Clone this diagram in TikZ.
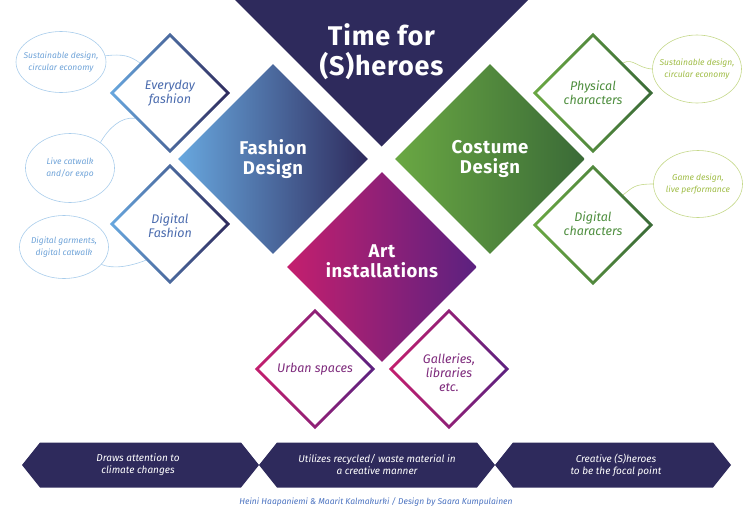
\documentclass[tikz,border=0pt]{standalone}
\usepackage{fontspec}
\setmainfont{Fira Sans}
\newfontfamily\headfont[LetterSpace=3]{Fira Sans}
\usetikzlibrary{shapes.geometric,calc}
\definecolor{navy}{HTML}{2E2A5C}
\definecolor{fdL}{HTML}{68A8DF}
\definecolor{cdL}{HTML}{6AA843}
\definecolor{cdR}{HTML}{3A6A37}
\definecolor{arL}{HTML}{C41F6E}
\definecolor{arR}{HTML}{5B2180}
\definecolor{blueT}{HTML}{4A6BAE}
\definecolor{greenT}{HTML}{4E8E3E}
\definecolor{magT}{HTML}{7E2A7C}
\definecolor{bubL}{HTML}{A8CCEB}
\definecolor{bubLT}{HTML}{6FA3D8}
\definecolor{bubR}{HTML}{C5D88A}
\definecolor{bubRT}{HTML}{9FBC45}
\definecolor{footc}{HTML}{4A72C0}
\tikzset{
  bigd/.style={diamond, inner sep=0pt, minimum width=190pt, minimum height=190pt},
  bigtxt/.style={text=white, align=center, font=\headfont\bfseries\fontsize{18.5}{20}\selectfont},
  ring/.style 2 args={diamond, inner sep=0pt, minimum width=120.2pt, minimum height=120.2pt, left color=#1, right color=#2},
  hole/.style={diamond, inner sep=0pt, minimum width=111.8pt, minimum height=111.8pt, fill=white},
  holetxt/.style={align=center, font=\itshape\fontsize{12.5}{14}\selectfont},
  lbub/.style={ellipse, draw=bubL, line width=0.6pt, inner sep=0pt},
  rbub/.style={ellipse, draw=bubR, line width=0.6pt, inner sep=0pt},
  lbtxt/.style={text=bubLT, align=center, font=\itshape\fontsize{8.5}{12}\selectfont},
  rbtxt/.style={text=bubRT, align=center, font=\itshape\fontsize{8.5}{12}\selectfont},
  lconn/.style={draw=bubL, line width=0.6pt},
  rconn/.style={draw=bubR, line width=0.6pt},
  bantxt/.style={text=white, align=center, font=\itshape\fontsize{10}{12}\selectfont},
}
\begin{document}
\begin{tikzpicture}[x=1pt,y=-1pt]
\useasboundingbox (0,0) rectangle (753,517);
% title triangle
\fill[navy] (235,0) -- (528,0) -- (381.5,146.5) -- cycle;
\node[text=white, align=center, font=\headfont\bfseries\fontsize{27}{30}\selectfont] (title) at (381.5,52) {Time for\\(S)heroes};
% big diamonds
\node[bigd, left color=fdL, right color=navy] (fd) at (273,159) {};
\node[bigtxt] (fdt) at (273,159) {Fashion\\Design};
\node[bigd, left color=cdL, right color=cdR] (cd) at (490,159) {};
\node[bigtxt] (cdt) at (490,159) {Costume\\Design};
\node[bigd, left color=arL, right color=arR] (ar) at (382,267) {};
\node[bigtxt] (art) at (382,261) {Art\\installations};
% outline diamonds
\node[ring={fdL}{navy}] (ev) at (170,93) {};
\node[hole] (evh) at (170,93) {};
\node[holetxt, text=blueT] (evt) at (170,93) {Everyday\\fashion};
\node[ring={fdL}{navy}] (dg) at (170,224) {};
\node[hole] (dgh) at (170,224) {};
\node[holetxt, text=blueT] (dgt) at (170,226) {Digital\\Fashion};
\node[ring={cdL}{cdR}] (pc) at (593,93) {};
\node[hole] (pch) at (593,93) {};
\node[holetxt, text=greenT] (pct) at (593,93) {Physical\\characters};
\node[ring={cdL}{cdR}] (dc) at (593,225) {};
\node[hole] (dch) at (593,225) {};
\node[holetxt, text=greenT] (dct) at (593,224) {Digital\\characters};
\node[ring={arL}{arR}] (us) at (315,369) {};
\node[hole] (ush) at (315,369) {};
\node[holetxt, text=magT] (ust) at (315,369) {Urban spaces};
\node[ring={arL}{arR}] (gl) at (449,369) {};
\node[hole] (glh) at (449,369) {};
\node[holetxt, text=magT] (glt) at (449,373) {Galleries,\\libraries\\etc.};
% bubbles
\node[lbub, minimum width=90pt, minimum height=61pt] (lb1) at (61,62) {};
\node[lbtxt] (lb1t) at (61,62) {Sustainable design,\\circular economy};
\node[lbub, minimum width=89pt, minimum height=69pt] (lb2) at (70,168) {};
\node[lbtxt] (lb2t) at (70,168) {Live catwalk\\and/or expo};
\node[lbub, minimum width=89pt, minimum height=63pt] (lb3) at (64,247) {};
\node[lbtxt] (lb3t) at (64,247) {Digital garments,\\digital catwalk};
\node[rbub, minimum width=89pt, minimum height=68pt] (rb1) at (697,69) {};
\node[rbtxt] (rb1t) at (697,69) {Sustainable design,\\circular economy};
\node[rbub, minimum width=89pt, minimum height=67pt] (rb2) at (698,184) {};
\node[rbtxt] (rb2t) at (698,184) {Game design,\\live performance};
% connectors
\coordinate (e1) at ($(ev.west)!0.42!(ev.south)$);
\coordinate (e2) at ($(dg.west)!0.6!(dg.south)$);
\draw[lconn] (lb1.8) .. controls +(18,-2) and +(-10,-7) .. (ev.north west);
\draw[lconn] (lb2.40) .. controls +(8,-14) and +(-14,-2) .. (e1);
\draw[lconn] (lb3.-25) .. controls +(12,5) and +(-15,6) .. (e2);
\draw[rconn] (pc.north east) .. controls +(10,-5) and +(-15,-1) .. (rb1.west);
\draw[rconn] (dc.north east) .. controls +(10,-8) and +(-18,0) .. (rb2.west);
% banners
\fill[navy] (22,465) -- (40,442.5) -- (241,442.5) -- (259,465) -- (241,487.5) -- (40,487.5) -- cycle;
\fill[navy] (259,465) -- (277,442.5) -- (477,442.5) -- (495,465) -- (477,487.5) -- (277,487.5) -- cycle;
\fill[navy] (495,465) -- (513,442.5) -- (713,442.5) -- (731,465) -- (713,487.5) -- (513,487.5) -- cycle;
\node[bantxt] (b1) at (138,465) {Draws attention to\\climate changes};
\node[bantxt] (b2) at (377,465) {Utilizes recycled/ waste material in\\a creative manner};
\node[bantxt] (b3) at (616,465) {Creative (S)heroes\\to be the focal point};
\node[text=footc, font=\itshape\fontsize{8.5}{10}\selectfont] (foot) at (376,502) {Heini Haapaniemi \& Maarit Kalmakurki / Design by Saara Kumpulainen};
\end{tikzpicture}
\end{document}
